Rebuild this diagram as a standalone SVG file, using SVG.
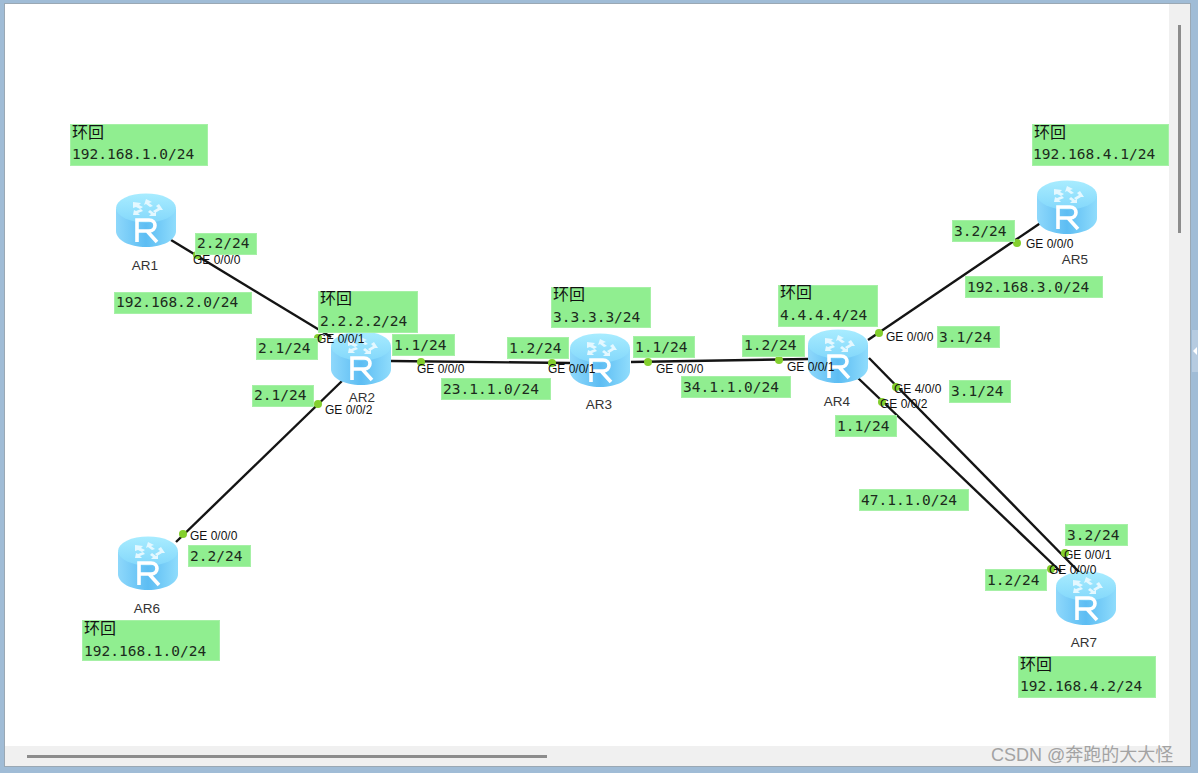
<svg xmlns="http://www.w3.org/2000/svg" width="1198" height="773" viewBox="0 0 1198 773">
<style>
.lab{fill:#90ee90;stroke:#a6f0a6;stroke-width:1}
.m{font-family:"DejaVu Sans Mono","Liberation Mono",monospace;font-size:14.5px;fill:#1c2a1c}
.c{font-family:"Noto Sans CJK SC",sans-serif;font-size:16px;fill:#111}
.p{font-family:"Liberation Sans",Arial,sans-serif;font-size:12px;fill:#111}
.n{font-family:"Liberation Sans",Arial,sans-serif;font-size:13.5px;fill:#333;text-anchor:middle}
.w{stroke:#141414;stroke-width:2.4;fill:none}
.d{fill:#83cf2e}
</style>
<defs>
<linearGradient id="side" x1="0" x2="1" y1="0" y2="0">
<stop offset="0" stop-color="#8ed8fb"/><stop offset=".5" stop-color="#5dbdf3"/><stop offset="1" stop-color="#8fdcfc"/>
</linearGradient>
<linearGradient id="topg" x1="0" x2="0" y1="0" y2="1">
<stop offset="0" stop-color="#a8ecff"/><stop offset="1" stop-color="#84d8fb"/>
</linearGradient>
<g id="router">
<path d="M0 16V38C0 47 13 54 30 54S60 47 60 38V16Z" fill="url(#side)"/>
<ellipse cx="30" cy="15" rx="30" ry="14.5" fill="url(#topg)"/>
<path d="M30 6l6 3-3 1 4 3-3 1-4-3-2 1zM17 9l8 1-2 2 4 2-3 2-4-2-3 1zM43 11l4 6-3 0-5 3-2-2 5-3-2-2zM17 22l1-5 2 1 5-2 2 2-5 2 2 2zM34 17l4 3 2-1 0 4-7 0 2-2-3-2z" fill="#e4f8ff"/>
<path d="M21 49V27H33C41 27 41 38 33 38H21M31 38L41 49" fill="none" stroke="#fff" stroke-width="3.6"/>
</g>
</defs>

<g id="window">
<rect width="1198" height="773" fill="#a0bcd6"/>
<rect x="4" y="3" width="1187" height="764" fill="#9aa8b4"/>
<rect x="5" y="4" width="1185" height="762" fill="#f0f0f0"/>
<rect x="5" y="4" width="1164" height="742" fill="#fff"/>
<rect x="1178" y="25" width="3" height="208" fill="#8c8c8c"/>
<rect x="27" y="755" width="520" height="3" fill="#8c8c8c"/>
<rect x="1192" y="330" width="6" height="42" fill="#b6cbe0"/>
<path d="M1193 351l4-4v8z" fill="#fff"/>
</g>

<g id="connectors">
<path class="w" d="M171 240L331 337"/>
<path class="w" d="M391 361L570 363"/>
<path class="w" d="M631 362L808 359"/>
<path class="w" d="M342 381L176 542"/>
<path class="w" d="M868 340L1042 222"/>
<path class="w" d="M869 358L1081 574"/>
<path class="w" d="M858 378L1061 572"/>
<circle class="d" cx="197" cy="255" r="4"/>
<circle class="d" cx="318" cy="338" r="4"/>
<circle class="d" cx="421" cy="362" r="4"/>
<circle class="d" cx="552" cy="363" r="4"/>
<circle class="d" cx="648" cy="362" r="4"/>
<circle class="d" cx="779" cy="360" r="4"/>
<circle class="d" cx="318" cy="404" r="4"/>
<circle class="d" cx="183" cy="534" r="4"/>
<circle class="d" cx="879" cy="333" r="4"/>
<circle class="d" cx="1017" cy="243" r="4"/>
<circle class="d" cx="896" cy="387" r="4"/>
<circle class="d" cx="882" cy="402" r="4"/>
<circle class="d" cx="1065" cy="553" r="4"/>
<circle class="d" cx="1051" cy="569" r="4"/>
</g>

<g id="AR1"><use href="#router" x="116" y="193"/><text class="n" x="145" y="270">AR1</text></g>
<g id="AR2"><use href="#router" x="331" y="331"/><text class="n" x="362" y="402">AR2</text></g>
<g id="AR3"><use href="#router" x="570" y="333"/><text class="n" x="599" y="409">AR3</text></g>
<g id="AR4"><use href="#router" x="808" y="329"/><text class="n" x="837" y="406">AR4</text></g>
<g id="AR5"><use href="#router" x="1037" y="180"/><text class="n" x="1075" y="264">AR5</text></g>
<g id="AR6"><use href="#router" x="118" y="536"/><text class="n" x="147" y="613">AR6</text></g>
<g id="AR7"><use href="#router" x="1056" y="571"/><text class="n" x="1084" y="647">AR7</text></g>

<g id="labels">
<rect class="lab" x="70.500" y="124.500" width="137" height="41"/><text class="c" x="72" y="138">环回</text><text class="m" x="72" y="159">192.168.1.0/24</text>
<rect class="lab" x="1032.500" y="124.500" width="136" height="41"/><text class="c" x="1034" y="138">环回</text><text class="m" x="1033" y="159">192.168.4.1/24</text>
<rect class="lab" x="318.500" y="291.500" width="99" height="41"/><text class="c" x="320" y="304">环回</text><text class="m" x="320" y="326">2.2.2.2/24</text>
<rect class="lab" x="551.500" y="287.500" width="99" height="40"/><text class="c" x="553" y="300">环回</text><text class="m" x="553" y="322">3.3.3.3/24</text>
<rect class="lab" x="778.500" y="285.500" width="99" height="41"/><text class="c" x="780" y="298">环回</text><text class="m" x="780" y="320">4.4.4.4/24</text>
<rect class="lab" x="82.500" y="620.500" width="137" height="40"/><text class="c" x="84" y="634">环回</text><text class="m" x="84" y="656">192.168.1.0/24</text>
<rect class="lab" x="1018.500" y="656.500" width="137" height="41"/><text class="c" x="1020" y="670">环回</text><text class="m" x="1020" y="691">192.168.4.2/24</text>

<rect class="lab" x="195.500" y="233.500" width="61" height="21"/><text class="m" x="197" y="248">2.2/24</text>
<rect class="lab" x="114.500" y="292.500" width="137" height="21"/><text class="m" x="116" y="307">192.168.2.0/24</text>
<rect class="lab" x="256.500" y="338.500" width="61" height="21"/><text class="m" x="258" y="353">2.1/24</text>
<rect class="lab" x="252.500" y="385.500" width="61" height="21"/><text class="m" x="254" y="400">2.1/24</text>
<rect class="lab" x="392.500" y="334.500" width="62" height="21"/><text class="m" x="394" y="350">1.1/24</text>
<rect class="lab" x="507.500" y="337.500" width="61" height="21"/><text class="m" x="509" y="353">1.2/24</text>
<rect class="lab" x="441.500" y="378.500" width="109" height="21"/><text class="m" x="443" y="394">23.1.1.0/24</text>
<rect class="lab" x="633.500" y="336.500" width="61" height="21"/><text class="m" x="635" y="352">1.1/24</text>
<rect class="lab" x="742.500" y="335.500" width="62" height="21"/><text class="m" x="744" y="350">1.2/24</text>
<rect class="lab" x="681.500" y="376.500" width="109" height="21"/><text class="m" x="683" y="392">34.1.1.0/24</text>
<rect class="lab" x="937.500" y="326.500" width="62" height="21"/><text class="m" x="939" y="342">3.1/24</text>
<rect class="lab" x="949.500" y="380.500" width="61" height="22"/><text class="m" x="951" y="396">3.1/24</text>
<rect class="lab" x="835.500" y="415.500" width="61" height="21"/><text class="m" x="837" y="431">1.1/24</text>
<rect class="lab" x="859.500" y="489.500" width="109" height="21"/><text class="m" x="861" y="505">47.1.1.0/24</text>
<rect class="lab" x="952.500" y="220.500" width="62" height="21"/><text class="m" x="954" y="236">3.2/24</text>
<rect class="lab" x="965.500" y="276.500" width="137" height="21"/><text class="m" x="967" y="292">192.168.3.0/24</text>
<rect class="lab" x="1065.500" y="524.500" width="62" height="21"/><text class="m" x="1067" y="540">3.2/24</text>
<rect class="lab" x="985.500" y="569.500" width="61" height="21"/><text class="m" x="987" y="585">1.2/24</text>
<rect class="lab" x="188.500" y="545.500" width="62" height="21"/><text class="m" x="190" y="561">2.2/24</text>

<text class="p" x="193" y="264">GE 0/0/0</text>
<text class="p" x="317" y="343">GE 0/0/1</text>
<text class="p" x="325" y="414">GE 0/0/2</text>
<text class="p" x="417" y="373">GE 0/0/0</text>
<text class="p" x="548" y="373">GE 0/0/1</text>
<text class="p" x="656" y="373">GE 0/0/0</text>
<text class="p" x="787" y="371">GE 0/0/1</text>
<text class="p" x="886" y="341">GE 0/0/0</text>
<text class="p" x="894" y="393">GE 4/0/0</text>
<text class="p" x="880" y="408">GE 0/0/2</text>
<text class="p" x="1026" y="248">GE 0/0/0</text>
<text class="p" x="190" y="540">GE 0/0/0</text>
<text class="p" x="1064" y="559">GE 0/0/1</text>
<text class="p" x="1049" y="574">GE 0/0/0</text>
</g>
<text x="991" y="761" font-family="Liberation Sans,Noto Sans CJK SC,sans-serif" font-size="18" fill="#a3a3a3">CSDN @奔跑的大大怪</text>
</svg>
